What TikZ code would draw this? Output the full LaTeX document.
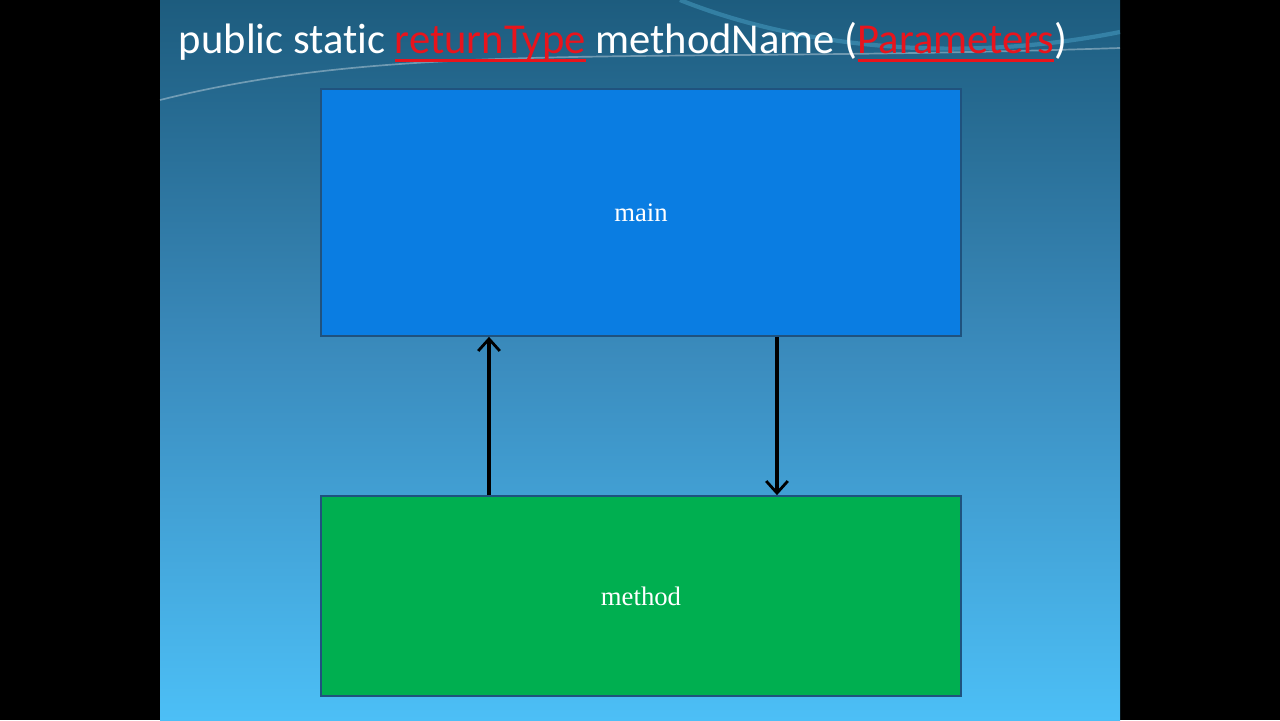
\documentclass[tikz,border=0pt]{standalone}
\usepackage{fontspec}
\setmainfont{Liberation Serif}
\newfontfamily\titlefont[Ligatures=NoCommon]{Carlito}
\usetikzlibrary{arrows.meta}
\definecolor{slidetop}{HTML}{1D5C7E}
\definecolor{slidemid}{HTML}{3B8CBE}
\definecolor{slidebot}{HTML}{4CBFF6}
\definecolor{mainblue}{HTML}{0A7DE2}
\definecolor{methodgreen}{HTML}{00AF50}
\definecolor{edgeblue}{HTML}{1F527E}
\definecolor{keyred}{HTML}{E8141C}
\newsavebox{\keybox}
\newcommand{\keyword}[1]{\textcolor{keyred}{\sbox{\keybox}{#1}\rlap{\rule[-0.21em]{\wd\keybox}{0.06em}}\usebox{\keybox}}}
\begin{document}
\begin{tikzpicture}[
        block/.style={draw=edgeblue, line width=1.2pt, minimum width=16cm, font=\fontsize{19}{22}\selectfont, text=white},
        flow/.style={-{Straight Barb[length=3mm, width=5.4mm, line width=2pt]}, line width=2.2pt}
    ]
        \useasboundingbox (0, 0) rectangle (32, 18);
        \fill[black] (0, 0) rectangle (32, 18);

        % Slide
        \shade[top color=slidetop, bottom color=slidebot, middle color=slidemid] (4, 0) rectangle (28, 18);
        \draw[white, opacity=0.35, line width=1.2pt] (4, 15.5) .. controls (10, 17) and (16, 16.4) .. (28, 16.8);
        \draw[cyan!60!white, opacity=0.3, line width=3pt] (17, 18) .. controls (20, 16.8) and (24, 16.4) .. (28, 17.2);

        % Title
        \node[anchor=west, text=white, font=\titlefont\fontsize{30.3}{35}\selectfont] (title) at (4.35, 16.95)
            {public static \keyword{returnType} methodName (\keyword{Parameters})};

        % Blocks
        \node[block, fill=mainblue, minimum height=6.175cm] (main) at (16.025, 12.6875) {main};
        \node[block, fill=methodgreen, minimum height=5cm] (method) at (16.025, 3.1) {method};

        % Calls and returns
        \draw[flow] (method.north -| 12.225, 0) -- (main.south -| 12.225, 0);
        \draw[flow] (main.south -| 19.425, 0) -- (method.north -| 19.425, 0);
    \end{tikzpicture}
\end{document}
